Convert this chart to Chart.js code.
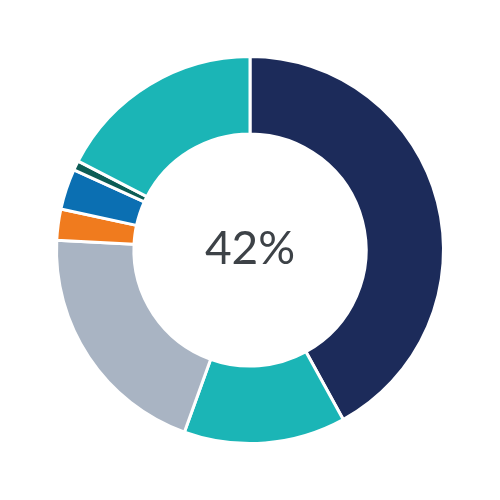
<!DOCTYPE html>
<html>
<head>
<meta charset="utf-8">
<script src="https://cdn.jsdelivr.net/npm/chart.js@4.4.0/dist/chart.umd.min.js"></script>
<style>
  html, body { margin: 0; padding: 0; background: #ffffff; }
  #wrap { position: relative; width: 500px; height: 500px; }
  #center { position: absolute; left: 0; top: -4px; width: 500px; height: 500px;
    display: flex; align-items: center; justify-content: center;
    font-family: Lato, "Open Sans", sans-serif; font-size: 46px; font-weight: 400;
    color: #3d4247; pointer-events: none; }
</style>
</head>
<body>
<div id="wrap">
  <canvas id="c" width="500" height="500"></canvas>
  <div id="center"></div>
</div>
<script>
const categories = ["A", "B", "C", "D", "E", "F", "G"];
const values = [42.0, 13.5, 20.3, 2.6, 3.4, 0.8, 17.4];
const colors = ["#1c2b5a", "#1bb5b6", "#a9b4c3", "#f07b1e", "#0b6fb2", "#0c5c55", "#1bb5b6"];
const centerLabel = "42%";

document.getElementById("center").textContent = centerLabel;

new Chart(document.getElementById("c"), {
  type: "doughnut",
  data: {
    labels: categories,
    datasets: [{
      data: values,
      backgroundColor: colors,
      borderColor: "#ffffff",
      borderWidth: 3,
      hoverOffset: 0
    }]
  },
  options: {
    responsive: false,
    animation: false,
    cutout: "60%",
    layout: { padding: 55 },
    plugins: { legend: { display: false }, tooltip: { enabled: false } }
  }
});
</script>
</body>
</html>
